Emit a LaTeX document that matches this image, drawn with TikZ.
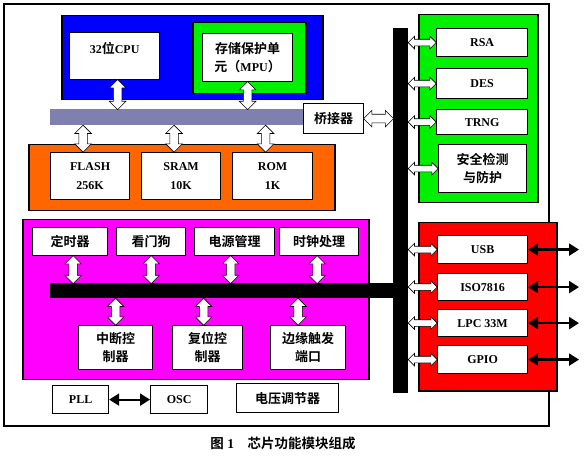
\documentclass[tikz,border=0pt]{standalone}
\usepackage{fontspec}
\setmainfont{Liberation Serif}
\newfontfamily\cjk{Noto Sans CJK SC}[BoldFont={Noto Sans CJK SC Bold}]
\newcommand{\zh}{\cjk\bfseries\fontsize{13}{16}\selectfont}
\usetikzlibrary{shapes.arrows,arrows.meta}
\definecolor{cpublue}{RGB}{0,0,255}
\definecolor{mpugreen}{RGB}{0,240,0}
\definecolor{memorange}{RGB}{255,102,0}
\definecolor{periphmag}{RGB}{255,0,255}
\definecolor{ioread}{RGB}{255,0,0}
\definecolor{barlila}{RGB}{128,128,176}

\begin{document}
\begin{tikzpicture}[x=1pt,y=-1pt,font=\bfseries\fontsize{12}{14}\selectfont]
% Stili
\tikzstyle{box} = [
    rectangle,
    draw,
    fill=white,
    line width=1.2pt,
    inner sep=0pt,
    anchor=north west,
    align=center
]
\tikzstyle{area} = [
    rectangle,
    draw,
    line width=1.5pt,
    inner sep=0pt,
    anchor=north west
]
\tikzstyle{bus} = [
    rectangle,
    inner sep=0pt,
    anchor=north west
]
\tikzstyle{big} = [
    double arrow,
    draw,
    fill=white,
    line width=0.6pt,
    inner xsep=0pt,
    inner ysep=4pt,
    double arrow head extend=4pt,
    sloped
]
\tikzstyle{small} = [
    double arrow,
    draw,
    fill=white,
    line width=0.6pt,
    inner xsep=0pt,
    inner ysep=3pt,
    double arrow head extend=3pt,
    sloped
]
\tikzstyle{blk} = [
    {Triangle[length=10pt,width=12pt]}-{Triangle[length=10pt,width=12pt]},
    line width=2.2pt
]
\tikzset{wh/.style 2 args={minimum width=#1pt, minimum height=#2pt}}

\fill[white] (0,0) rectangle (587,457);
\useasboundingbox (0,0) rectangle (587,457);

% Cornice
\node[area, wh={545}{422}, line width=2pt] (chip) at (3,3) {};

% CPU e MPU
\node[area, fill=cpublue, wh={261}{84}] (core) at (61,15) {};
\node[box, wh={90}{47}] (cpu) at (69,32)
{32{\zh 位}CPU\\[3pt]\mbox{}};
\node[area, fill=mpugreen, wh={113}{71}] (mpuarea) at (192,22) {};
\node[box, wh={90}{48}] (mpu) at (202,33)
{{\zh 存储保护单}\\[4pt]{\zh 元（}MPU{\zh ）}};

% Bus AHB e bridge
\node[bus, fill=barlila, wh={253}{16}] (bar) at (50,109) {};
\node[box, wh={60}{30}] (bridge) at (303,103)
{\zh 桥接器};

% Memorie
\node[area, fill=memorange, wh={306}{66}] (mem) at (28,144) {};
\node[box, wh={79}{47}] (flash) at (50,152)
{FLASH\\[5pt]256K};
\node[box, wh={79}{47}] (sram) at (141,152)
{SRAM\\[5pt]10K};
\node[box, wh={80}{47}] (rom) at (232,152)
{ROM\\[5pt]1K};

% Bus verticale
\node[bus, fill=black, wh={15}{365}] (vbus) at (393,28) {};

% Sicurezza
\node[area, fill=mpugreen, wh={119}{188}] (sec) at (418,14) {};
\node[box, wh={91}{28}] (rsa) at (436,28)
{RSA};
\node[box, wh={91}{30}] (des) at (436,68)
{DES};
\node[box, wh={91}{25}] (trng) at (436,109)
{TRNG};
\node[box, wh={88}{48}] (safe) at (438,144)
{{\zh 安全检测}\\[4pt]{\zh 与防护}};

% Periferiche
\node[area, fill=periphmag, wh={346}{160}] (periph) at (22,219) {};
\node[box, wh={75}{28}] (timer) at (32,227)
{\zh 定时器};
\node[box, wh={69}{28}] (wdog) at (116,227)
{\zh 看门狗};
\node[box, wh={80}{28}] (power) at (194,227)
{\zh 电源管理};
\node[box, wh={79}{28}] (clock) at (279,227)
{\zh 时钟处理};
\node[bus, fill=black, wh={343}{15}] (hbus) at (50,283) {};
\node[box, wh={74}{44}] (irq) at (78,325)
{{\zh 中断控}\\[4pt]{\zh 制器}};
\node[box, wh={70}{44}] (reset) at (172,325)
{{\zh 复位控}\\[4pt]{\zh 制器}};
\node[box, wh={75}{44}] (edge) at (270,325)
{{\zh 边缘触发}\\[4pt]{\zh 端口}};

% Interfacce
\node[area, fill=ioread, wh={138}{168}] (io) at (418,222) {};
\node[box, wh={90}{28}] (usb) at (437,235)
{USB};
\node[box, wh={90}{27}] (iso) at (437,273)
{ISO7816};
\node[box, wh={90}{27}] (lpc) at (437,309)
{LPC 33M};
\node[box, wh={90}{28}] (gpio) at (437,345)
{GPIO};
\coordinate (out) at (579,0);

% Clock e regolatore
\node[box, wh={56}{28}] (pll) at (52,385)
{PLL};
\node[box, wh={57}{28}] (osc) at (150,385)
{OSC};
\node[box, wh={102}{29}] (vreg) at (236,383)
{\zh 电压调节器};

% Didascalia
\node (cap) at (283,443)
{\fontsize{13.5}{16}\selectfont{\cjk 图}~1\quad{\cjk 芯片功能模块组成}};

% Frecce
\path ([xshift=3pt]cpu.south) -- node[big, minimum height=30pt] {} ([xshift=3pt]cpu.south |- bar.north);
\path (mpu.south) -- node[big, minimum height=28pt] {} (mpu.south |- bar.north);
\path ([xshift=-7pt]flash.north |- bar.south) -- node[big, minimum height=27pt] {} ([xshift=-7pt]flash.north);
\path ([xshift=-7pt]sram.north |- bar.south) -- node[big, minimum height=27pt] {} ([xshift=-7pt]sram.north);
\path ([xshift=-7pt]rom.north |- bar.south) -- node[big, minimum height=27pt] {} ([xshift=-7pt]rom.north);
\path (bridge.east) -- node[big, minimum height=30pt] {} (bridge.east -| vbus.west);

\path (vbus.east |- rsa.west) -- node[small, minimum height=28pt] {} (rsa.west);
\path (vbus.east |- des.west) -- node[small, minimum height=28pt] {} (des.west);
\path (vbus.east |- trng.west) -- node[small, minimum height=28pt] {} (trng.west);
\path (vbus.east |- safe.west) -- node[small, minimum height=30pt] {} (safe.west);

\path ([xshift=3pt]timer.south) -- node[big, minimum height=28pt] {} ([xshift=3pt]timer.south |- hbus.north);
\path (wdog.south) -- node[big, minimum height=28pt] {} (wdog.south |- hbus.north);
\path ([xshift=-4pt]power.south) -- node[big, minimum height=28pt] {} ([xshift=-4pt]power.south |- hbus.north);
\path ([xshift=-2pt]clock.south) -- node[big, minimum height=28pt] {} ([xshift=-2pt]clock.south |- hbus.north);
\path (irq.north |- hbus.south) -- node[big, minimum height=27pt] {} (irq.north);
\path ([xshift=-4pt]reset.north |- hbus.south) -- node[big, minimum height=27pt] {} ([xshift=-4pt]reset.north);
\path ([xshift=-10pt]edge.north |- hbus.south) -- node[big, minimum height=27pt] {} ([xshift=-10pt]edge.north);

\path (vbus.east |- usb.west) -- node[small, minimum height=29pt] {} (usb.west);
\path (vbus.east |- iso.west) -- node[small, minimum height=29pt] {} (iso.west);
\path (vbus.east |- lpc.west) -- node[small, minimum height=29pt] {} (lpc.west);
\path (vbus.east |- gpio.west) -- node[small, minimum height=29pt] {} (gpio.west);

\draw[blk] (usb.east) -- (usb.east -| out);
\draw[blk] (iso.east) -- (iso.east -| out);
\draw[blk] (lpc.east) -- (lpc.east -| out);
\draw[blk] (gpio.east) -- (gpio.east -| out);
\draw[blk] (pll.east) -- (osc.west);

\end{tikzpicture}
\end{document}
